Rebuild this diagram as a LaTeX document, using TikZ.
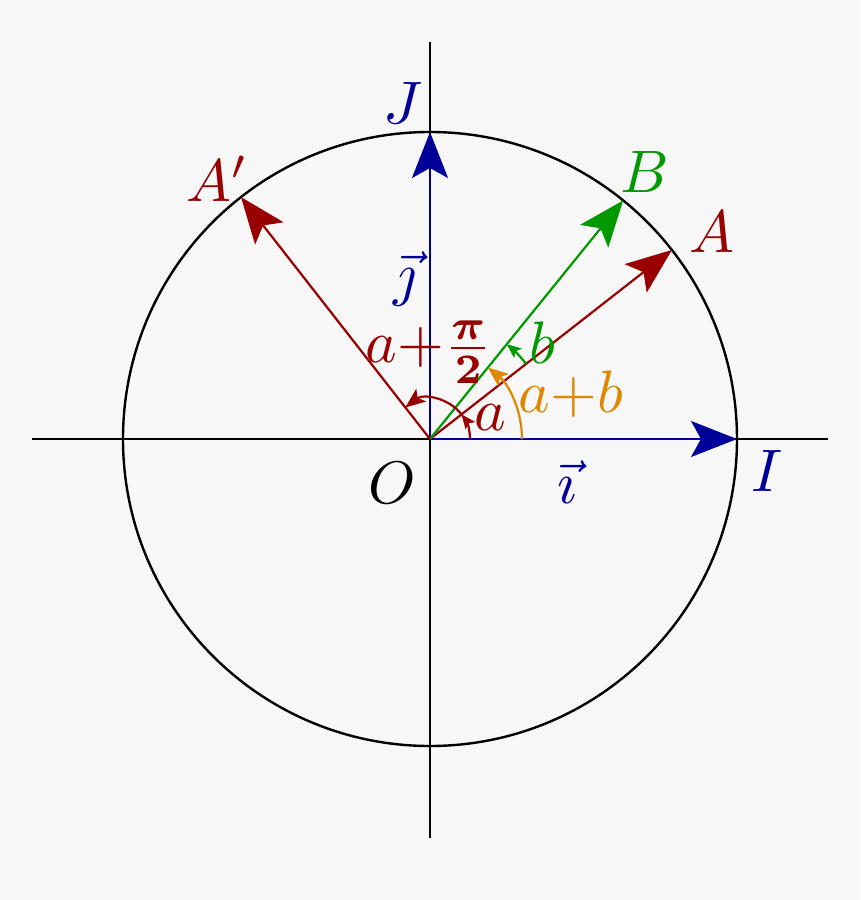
\documentclass[tikz,border=0pt]{standalone}
\usepackage{graphicx}
\usepackage{amsmath}
\usetikzlibrary{arrows.meta,calc}
\definecolor{bg}{HTML}{F7F7F7}
\definecolor{dred}{HTML}{990000}
\definecolor{dgreen}{HTML}{009900}
\definecolor{dblue}{HTML}{000099}
\definecolor{orng}{HTML}{DD8800}
\newcommand{\mylbl}[1]{\scalebox{1.5}{$#1$}}
\begin{document}
\begin{tikzpicture}[x=0.25pt,y=0.25pt,
  big/.style={-{Stealth[length=11.5pt,width=9pt,inset=2.5pt]},line width=0.55pt},
  small/.style={-{Stealth[length=5pt,width=4pt,inset=1.1pt]},line width=0.55pt},
  tiny/.style={-{Stealth[length=3.6pt,width=3pt,inset=0.8pt]},line width=0.55pt},
  lab/.style={inner sep=0pt}]
\fill[bg] (-430,-461) rectangle (430,439);
\useasboundingbox (-430,-461) rectangle (430,439);
\coordinate (O) at (0,0);
\coordinate (xl) at (-398,0);
\coordinate (xr) at (398,0);
\coordinate (yb) at (0,-399);
\coordinate (yt) at (0,397);
\coordinate (I) at (0:307);
\coordinate (J) at (90:307);
\coordinate (A) at (38:307);
\coordinate (B) at (51:307);
\coordinate (Ap) at (128:307);
% axes and circle
\draw[line width=0.55pt] (xl) -- (xr);
\draw[line width=0.55pt] (yb) -- (yt);
\draw[line width=0.6pt] (O) circle[radius=307];
% vectors
\draw[big,dblue] (O) -- (I);
\draw[big,dblue] (O) -- (J);
\draw[big,dred] (O) -- (A);
\draw[big,dgreen] (O) -- (B);
\draw[big,dred] (O) -- (Ap);
% angle arcs
\draw[tiny,dred] ([shift={(0:40)}]O) arc[start angle=0,end angle=38,radius=40];
\draw[small,dred] ([shift={(38:40)}]O) arc[start angle=38,end angle=128,radius=40];
\draw[small,orng] ([shift={(0:92)}]O) arc[start angle=0,end angle=51,radius=92];
\draw[tiny,dgreen] ([shift={(38:122)}]O) arc[start angle=38,end angle=51,radius=122];
% labels
\node[lab,text=dblue] (Jl) at (-27,336) {\mylbl{J}};
\node[lab,text=dblue] (Il) at (337,-32) {\mylbl{I}};
\node[lab,text=dred] (Al) at (282,207) {\mylbl{A}};
\node[lab,text=dgreen] (Bl) at (215,267) {\mylbl{B}};
\node[lab,text=dred] (Apl) at (-213,260) {\mylbl{A'}};
\node[lab] (Ol) at (-38,-44) {\mylbl{O}};
\node[lab,text=dblue] (il) at (137,-43) {\mylbl{\vec{\imath}}};
\node[lab,text=dblue] (jl) at (-25,160) {\mylbl{\vec{\jmath}}};
\node[lab,text=dred] (al) at (60,21) {\mylbl{a}};
\node[lab,text=dgreen] (bl) at (112,96) {\mylbl{b}};
\node[lab,text=orng] (abl) at (141,45) {\mylbl{a{+}b}};
\node[lab,text=dred] (apl) at (-1,87) {\mylbl{a{+}\frac{\boldsymbol{\pi}}{\mathbf{2}}}};
\end{tikzpicture}
\end{document}
